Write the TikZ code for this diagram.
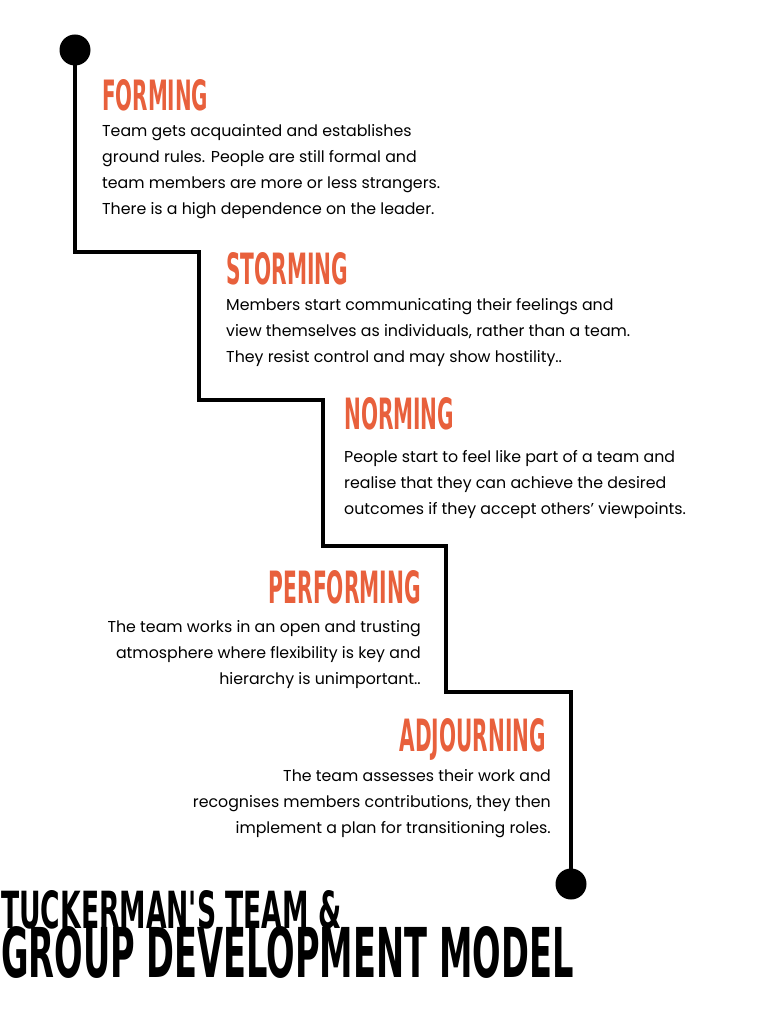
\documentclass[tikz,border=0pt]{standalone}
\usepackage{fontspec}
\setmainfont{Poppins}
\newfontfamily\headfont{DejaVu Sans Condensed Bold}
\definecolor{hot}{HTML}{E8603C}
\begin{document}
\begin{tikzpicture}[x=1pt,y=-1pt,
  stair/.style={line width=4pt,black},
  dot/.style={circle,fill=black,minimum size=31pt,inner sep=0},
  head/.style={inner sep=0,text=hot,font=\headfont},
  body/.style={inner sep=0,font=\fontsize{15.8}{26.2}\selectfont}]
\useasboundingbox[fill=white] (0,0) rectangle (768,1024);
\node[dot] (s) at (75,50) {};
\node[dot] (e) at (571,884) {};
\coordinate (a1) at (75,252); \coordinate (a2) at (199,252);
\coordinate (b1) at (199,400); \coordinate (b2) at (323,400);
\coordinate (c1) at (323,546); \coordinate (c2) at (446,546);
\coordinate (d1) at (446,692); \coordinate (d2) at (571,692);
\draw[stair] (s.center) -- (a1) -- (a2) -- (b1) -- (b2) -- (c1) -- (c2) -- (d1) -- (d2) -- (e.center);

\node[head,anchor=north west] (h1) at (102,79) {\resizebox{106pt}{31pt}{FORMING}};
\node[body,anchor=north west,align=left] (t1) at (102,124) {Team gets acquainted and establishes\\ground rules. People are still formal and\\team members are more or less strangers.\\There is a high dependence on the leader.};

\node[head,anchor=north west] (h2) at (226,252) {\resizebox{122pt}{32pt}{STORMING}};
\node[body,anchor=north west,align=left] (t2) at (226,298) {Members start communicating their feelings and\\view themselves as individuals, rather than a team.\\They resist control and may show hostility..};

\node[head,anchor=north west] (h3) at (344,397) {\resizebox{110pt}{32pt}{NORMING}};
\node[body,anchor=north west,align=left] (t3) at (344,450) {People start to feel like part of a team and\\realise that they can achieve the desired\\outcomes if they accept others’ viewpoints.};

\node[head,anchor=north east] (h4) at (421,570) {\resizebox{152pt}{33pt}{PERFORMING}};
\node[body,anchor=north east,align=right] (t4) at (421,620) {The team works in an open and trusting\\atmosphere where flexibility is key and\\hierarchy is unimportant..};

\node[head,anchor=north east] (h5) at (546,718) {\resizebox{146pt}{33pt}{ADJOURNING}};
\node[body,anchor=north east,align=right] (t5) at (551,769) {The team assesses their work and\\recognises members contributions, they then\\implement a plan for transitioning roles.};

\node[inner sep=0,anchor=north west,font=\headfont] (ti1) at (1,890) {\resizebox{340pt}{38pt}{TUCKERMAN'S TEAM \&}};
\node[inner sep=0,anchor=north west,font=\headfont] (ti2) at (1,926) {\resizebox{572pt}{51pt}{GROUP DEVELOPMENT MODEL}};
\end{tikzpicture}
\end{document}
